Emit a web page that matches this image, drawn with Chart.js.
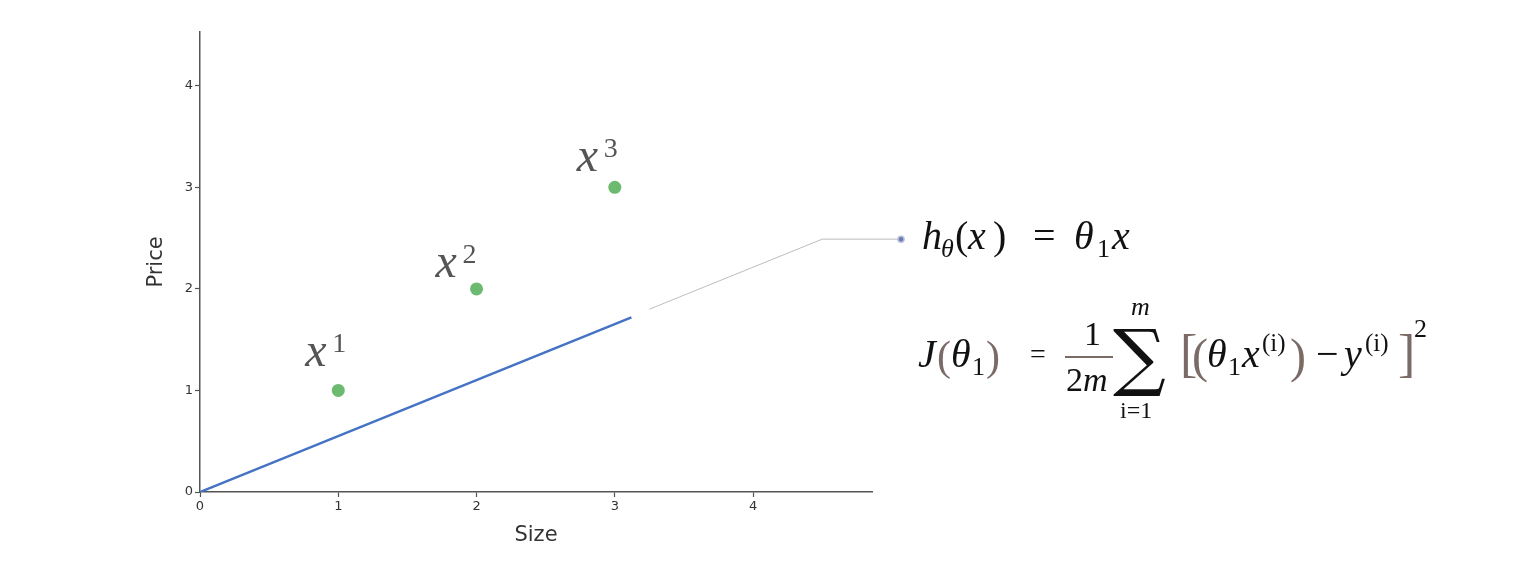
<!DOCTYPE html>
<html>
<head>
<meta charset="utf-8">
<script src="https://cdn.jsdelivr.net/npm/chart.js@4/dist/chart.umd.min.js"></script>
<style>
  body { margin: 0; background: #fff; }
  #wrap { position: relative; width: 1532px; height: 578px; }
  #chart { position: absolute; left: 0; top: 0; }
  .tok { position: absolute; line-height: 0; white-space: pre; font-family: "Liberation Serif", serif; color: #111; }
</style>
</head>
<body>
<div id="wrap">
  <canvas id="chart" width="1532" height="578"></canvas>
  <div id="formulas"></div>
</div>
<script>
// data
const sizeVals = [1, 2, 3];
const priceVals = [1, 2, 3];
const pointLabels = ["1", "2", "3"];
const lineX = [0, 3.12];
const lineY = [0, 1.72];
const leaderX = [3.25, 4.5, 5.07];
const leaderY = [1.8, 2.49, 2.49];
const xTicks = [0, 1, 2, 3, 4];
const yTicks = [0, 1, 2, 3, 4];

// label nudges in px (dx, dy) from each point
const labelOffsets = [[-33, -24], [-41, -12], [-38, -16]];

const pairs = (xs, ys) => xs.map((x, i) => ({ x: x, y: ys[i] }));

const pointLabelPlugin = {
    id: "pointLabels",
    afterDatasetsDraw(chart) {
        const ctx = chart.ctx;
        const xs = chart.scales.x, ys = chart.scales.y;
        ctx.save();
        ctx.fillStyle = "#555";
        ctx.textBaseline = "alphabetic";
        sizeVals.forEach((v, i) => {
            const px = xs.getPixelForValue(v) + labelOffsets[i][0];
            const py = ys.getPixelForValue(priceVals[i]) + labelOffsets[i][1];
            ctx.font = "italic 48px 'Liberation Serif'";
            ctx.fillText("x", px, py);
            ctx.font = "28px 'Liberation Serif'";
            ctx.fillText(pointLabels[i], px + 27, py - 14);
        });
        // end dot of the leader line (outside the plot area, so the line controller skips it)
        const last = leaderX.length - 1;
        const dx = xs.getPixelForValue(leaderX[last]);
        const dy = ys.getPixelForValue(leaderY[last]);
        ctx.beginPath();
        ctx.arc(dx, dy, 3, 0, Math.PI * 2);
        ctx.fillStyle = "#6a7bb0";
        ctx.strokeStyle = "#b5bedc";
        ctx.lineWidth = 1.5;
        ctx.fill();
        ctx.stroke();
        ctx.restore();
    }
};

const axisStyle = {
    grid: { drawOnChartArea: false, drawTicks: true, tickLength: 5, color: "#555", tickWidth: 1.2 },
    border: { color: "#555", width: 1.5 },
    ticks: { color: "#333", font: { family: "DejaVu Sans", size: 13 }, padding: 2, maxRotation: 0 }
};

new Chart(document.getElementById("chart"), {
    type: "scatter",
    data: {
        datasets: [
            {
                type: "line",
                data: pairs(lineX, lineY),
                borderColor: "#4472c4",
                borderWidth: 2.5,
                pointRadius: 0
            },
            {
                data: pairs(sizeVals, priceVals),
                backgroundColor: "#6cba70",
                borderWidth: 0,
                pointRadius: 6.5
            },
            {
                type: "line",
                data: pairs(leaderX, leaderY),
                borderColor: "#bdbdbd",
                borderWidth: 1,
                pointRadius: 0,
                clip: false
            }
        ]
    },
    options: {
        responsive: false,
        animation: false,
        layout: { padding: { left: 140, right: 660, top: 32, bottom: 26 } },
        plugins: { legend: { display: false }, tooltip: { enabled: false } },
        scales: {
            x: {
                type: "linear", min: 0, max: 4.86,
                ...axisStyle,
                afterBuildTicks: s => { s.ticks = xTicks.map(v => ({ value: v })); },
                afterFit: s => { s.height = 60; },
                title: { display: true, text: "Size", color: "#333", font: { family: "DejaVu Sans", size: 21 }, padding: 4 }
            },
            y: {
                type: "linear", min: 0, max: 4.53,
                ...axisStyle,
                afterBuildTicks: s => { s.ticks = yTicks.map(v => ({ value: v })); },
                afterFit: s => { s.width = 60; },
                title: { display: true, text: "Price", color: "#333", font: { family: "DejaVu Sans", size: 21 }, padding: 4 }
            }
        }
    },
    plugins: [pointLabelPlugin]
});

// formulas as positioned text: [text, left, baseline, size, italic, color, font]
const ink = "#111", brown = "#7b6b67";
const tokens = [
    ["h", 922, 250, 40, 1, ink],
    ["θ", 941, 258, 26, 1, ink],
    ["(", 955, 250, 40, 0, ink],
    ["x", 968, 250, 40, 1, ink],
    [")", 993, 250, 40, 0, ink],
    ["=", 1033, 250, 40, 0, ink],
    ["θ", 1074, 250, 40, 1, ink],
    ["1", 1097, 258, 26, 0, ink],
    ["x", 1112, 250, 40, 1, ink],

    ["J", 918, 368, 40, 1, ink],
    ["(", 937, 370, 42, 0, brown],
    ["θ", 951, 368, 40, 1, ink],
    ["1", 972, 376, 26, 0, ink],
    [")", 986, 370, 42, 0, brown],
    ["=", 1030, 364, 28, 0, ink],
    ["1", 1084, 346, 34, 0, ink],
    ["2", 1066, 392, 34, 0, ink],
    ["m", 1083, 392, 34, 1, ink],
    ["m", 1131, 316, 26, 1, ink],
    ["∑", 1113, 381, 74, 0, ink, "DejaVu Serif"],
    ["i=1", 1120, 418, 24, 0, ink],
    ["[", 1180, 372, 52, 0, brown],
    ["(", 1192, 372, 48, 0, brown],
    ["θ", 1207, 368, 40, 1, ink],
    ["1", 1228, 376, 26, 0, ink],
    ["x", 1242, 368, 40, 1, ink],
    ["(i)", 1262, 351, 25, 0, ink],
    [")", 1290, 372, 48, 0, brown],
    ["−", 1316, 368, 40, 0, ink],
    ["y", 1344, 368, 40, 1, ink],
    ["(i)", 1365, 351, 25, 0, ink],
    ["]", 1398, 372, 52, 0, brown],
    ["2", 1414, 338, 26, 0, ink]
];

const box = document.getElementById("formulas");
tokens.forEach(t => {
    const el = document.createElement("span");
    el.className = "tok";
    el.textContent = t[0];
    if (t[6]) el.style.fontFamily = "'" + t[6] + "'";
    el.style.left = t[1] + "px";
    el.style.top = (t[2] - 0.34 * t[3]) + "px";
    el.style.fontSize = t[3] + "px";
    el.style.fontStyle = t[4] ? "italic" : "normal";
    el.style.color = t[5];
    box.appendChild(el);
});

// fraction bar
const bar = document.createElement("div");
bar.style.cssText = "position:absolute;left:1065px;top:356px;width:48px;height:2px;background:" + brown;
box.appendChild(bar);
</script>
</body>
</html>
